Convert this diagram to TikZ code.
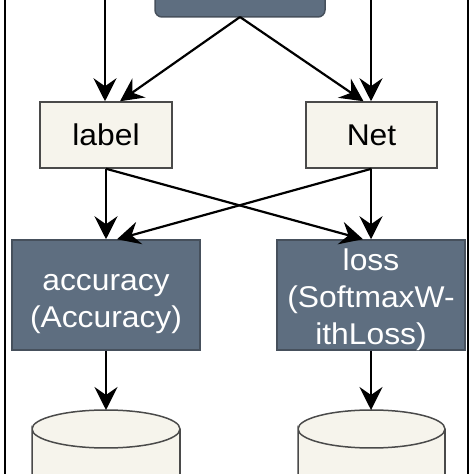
\documentclass[tikz,border=0pt]{standalone}
\usepackage{fontspec}
\setmainfont{Liberation Sans}[FakeStretch=1.06]
\usetikzlibrary{arrows.meta}
\definecolor{slate}{HTML}{5E6E80}
\definecolor{slateedge}{HTML}{46505C}
\definecolor{beige}{HTML}{F6F4EC}
\definecolor{beigeedge}{HTML}{4A4A4A}
\begin{document}
\begin{tikzpicture}[x=1pt,y=1pt,
  darkbox/.style={draw=slateedge, fill=slate, line width=1.5pt, inner sep=0pt},
  lightbox/.style={draw=beigeedge, fill=beige, line width=1.5pt, inner sep=0pt,
    font=\fontsize{30}{37}\selectfont},
  whitetext/.style={text=white, align=center, inner sep=0pt,
    font=\fontsize{30}{37}\selectfont},
  cyl/.style={draw=beigeedge, line width=1.5pt},
  arr/.style={-{Stealth[length=23pt,width=23pt,inset=8pt]}, line width=2.2pt},
  frame/.style={line width=2pt}]
\useasboundingbox (0,0) rectangle (474,474);
% outer frame
\draw[frame] (5,-10) -- (5,484);
\draw[frame] (468,-10) -- (468,484);
% top box
\node[darkbox, rounded corners=7pt, minimum width=170, minimum height=40] (top) at (240,477) {};
\coordinate (topb) at (240,457);
\coordinate (inL) at (105,484);
\coordinate (inR) at (371,484);
% label / Net
\node[lightbox, minimum width=132, minimum height=66] (label) at (106,339) {label};
\node[lightbox, minimum width=131, minimum height=66] (net) at (371.5,339) {Net};
% accuracy / loss
\node[darkbox, minimum width=188, minimum height=110] (acc) at (106,179) {};
\node[whitetext] (acctxt) at (106,170) {accuracy\\(Accuracy)};
\node[darkbox, minimum width=188, minimum height=110] (loss) at (371,179) {};
\node[whitetext] (losstxt) at (371,174) {loss\\(SoftmaxW-\\ithLoss)};
% cylinders
\fill[beige] (32,-20) -- (32,45) arc[start angle=180,end angle=0,x radius=74,y radius=19] -- (180,-20) -- cycle;
\draw[cyl] (32,-20) -- (32,45) arc[start angle=180,end angle=360,x radius=74,y radius=19]
  arc[start angle=0,end angle=180,x radius=74,y radius=19];
\draw[cyl] (180,45) -- (180,-20);
\coordinate (cylL) at (106,64);
\fill[beige] (298,-20) -- (298,45) arc[start angle=180,end angle=0,x radius=73.5,y radius=19] -- (445,-20) -- cycle;
\draw[cyl] (298,-20) -- (298,45) arc[start angle=180,end angle=360,x radius=73.5,y radius=19]
  arc[start angle=0,end angle=180,x radius=73.5,y radius=19];
\draw[cyl] (445,45) -- (445,-20);
\coordinate (cylR) at (371,64);
% arrows
\draw[arr] (inL) -- (label.north -| inL);
\draw[arr] (inR) -- (net.north -| inR);
\draw[arr] (topb) -- ([xshift=14pt]label.north);
\draw[arr] (topb) -- ([xshift=-8pt]net.north);
\draw[arr] (label.south) -- (acc.north);
\draw[arr] (label.south) -- ([xshift=-8pt]loss.north);
\draw[arr] (net.south) -- ([xshift=11pt]acc.north);
\draw[arr] (net.south -| loss.north) -- (loss.north);
\draw[arr] (acc.south) -- (cylL);
\draw[arr] (loss.south) -- (cylR);
\end{tikzpicture}
\end{document}
